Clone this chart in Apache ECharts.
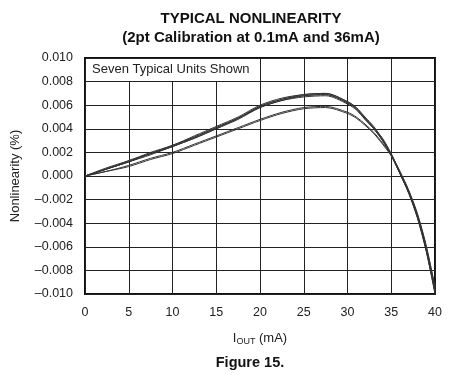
<!DOCTYPE html>
<html><head><meta charset="utf-8">
<script src="https://cdn.jsdelivr.net/npm/echarts@6/dist/echarts.min.js"></script>
<style>html,body{margin:0;padding:0;background:#fff}#c{width:458px;height:378px}</style>
</head><body><div id="c"></div>
<script>
const xs = [0, 2.5, 5, 7.5, 10, 12.5, 15, 17.5, 20, 22.5, 25, 27.5, 30, 31, 32, 33, 34, 35, 36, 37, 38, 39, 40];
const unitA = [0, 0.0006, 0.0012, 0.0019, 0.0025, 0.0033, 0.0041, 0.0049, 0.0059, 0.0065, 0.0068, 0.0069, 0.0062, 0.0057, 0.0049, 0.0041, 0.0031, 0.0018, 0.0002, -0.0014, -0.0035, -0.0063, -0.0098];
const unitB = [0, 0.0006, 0.0012, 0.0018, 0.0025, 0.0032, 0.0040, 0.0048, 0.0058, 0.0064, 0.0067, 0.0068, 0.0061, 0.0056, 0.0048, 0.0040, 0.0030, 0.0017, 0.0002, -0.0014, -0.0034, -0.0061, -0.0096];
const unitC = [0, 0.0007, 0.0013, 0.0020, 0.0026, 0.0034, 0.0042, 0.0050, 0.0060, 0.0066, 0.0069, 0.0070, 0.0063, 0.0058, 0.0050, 0.0042, 0.0031, 0.0018, 0.0002, -0.0015, -0.0036, -0.0064, -0.0100];
const unitD = [0, 0.0006, 0.0013, 0.0019, 0.0026, 0.0033, 0.0041, 0.0049, 0.0059, 0.0065, 0.0069, 0.0070, 0.0063, 0.0058, 0.0049, 0.0041, 0.0032, 0.0019, 0.0003, -0.0013, -0.0034, -0.0062, -0.0097];
const unitE = [0, 0.0006, 0.0012, 0.0019, 0.0025, 0.0032, 0.0040, 0.0049, 0.0058, 0.0064, 0.0068, 0.0069, 0.0062, 0.0057, 0.0048, 0.0040, 0.0030, 0.0018, 0.0002, -0.0014, -0.0035, -0.0063, -0.0099];
const unitF = [0, 0.0004, 0.0008, 0.0014, 0.0019, 0.0026, 0.0033, 0.0040, 0.0047, 0.0053, 0.0057, 0.0058, 0.0053, 0.0049, 0.0043, 0.0036, 0.0027, 0.0017, 0.0003, -0.0013, -0.0033, -0.0060, -0.0095];
const unitG = [0, 0.0004, 0.0009, 0.0015, 0.0020, 0.0027, 0.0034, 0.0041, 0.0048, 0.0054, 0.0058, 0.0059, 0.0054, 0.0050, 0.0044, 0.0037, 0.0028, 0.0018, 0.0004, -0.0012, -0.0032, -0.0059, -0.0094];
const units = [unitA, unitB, unitC, unitD, unitE, unitF, unitG];
const xTicks = [0, 5, 10, 15, 20, 25, 30, 35, 40];
const yTicks = [-0.010, -0.008, -0.006, -0.004, -0.002, 0.000, 0.002, 0.004, 0.006, 0.008, 0.010];

const chart = echarts.init(document.getElementById('c'));
const F = '"Liberation Sans", Arial, sans-serif';
chart.setOption({
  animation: false,
  backgroundColor: '#fff',
  title: [
    {text: 'TYPICAL NONLINEARITY', left: 246, top: 6, textAlign: 'center',
     textStyle: {fontFamily: F, fontSize: 15, fontWeight: 'bold', color: '#111'}},
    {text: '(2pt Calibration at 0.1mA and 36mA)', left: 246, top: 25, textAlign: 'center',
     textStyle: {fontFamily: F, fontSize: 15, fontWeight: 'bold', color: '#111'}},
    {text: 'Figure 15.', left: 245, top: 350, textAlign: 'center',
     textStyle: {fontFamily: F, fontSize: 14.5, fontWeight: 'bold', color: '#111'}}
  ],
  grid: {left: 85, right: 23, top: 58, bottom: 84, show: true, borderColor: '#111', borderWidth: 2, backgroundColor: 'transparent'},
  xAxis: {
    type: 'value', min: xTicks[0], max: xTicks[xTicks.length - 1], interval: 5,
    name: '{a|I}{s|OUT}{a| (mA)}', nameLocation: 'middle', nameGap: 36,
    nameTextStyle: {rich: {a: {fontFamily: F, fontSize: 13, color: '#222'}, s: {fontFamily: F, fontSize: 9, color: '#222', verticalAlign: 'bottom', padding: [7, 0, 0, 0]}}},
    axisLine: {show: false}, axisTick: {show: false},
    axisLabel: {fontFamily: F, fontSize: 12.5, color: '#222', margin: 12},
    splitLine: {show: true, lineStyle: {color: '#222', width: 1}}
  },
  yAxis: {
    type: 'value', min: yTicks[0], max: yTicks[yTicks.length - 1], interval: 0.002,
    name: 'Nonlinearity (%)', nameLocation: 'middle', nameGap: 63,
    nameTextStyle: {fontFamily: F, fontSize: 13, color: '#222'},
    axisLine: {show: false}, axisTick: {show: false},
    axisLabel: {fontFamily: F, fontSize: 12.5, color: '#222', margin: 12,
      formatter: v => (v < -1e-9 ? '\u2013' : '') + Math.abs(v).toFixed(3)},
    splitLine: {show: true, lineStyle: {color: '#222', width: 1}}
  },
  graphic: [
    {type: 'rect', z: 100, shape: {x: 86, y: 59, width: 172, height: 22}, style: {fill: '#fff'}},
    {type: 'text', z: 101, left: 92, top: 63, style: {text: 'Seven Typical Units Shown', fontFamily: F, fontSize: 13, fill: '#222'}}
  ],
  series: units.map(u => ({
    type: 'line', smooth: 0.3, showSymbol: false,
    data: xs.map((x, i) => [x, u[i]]),
    lineStyle: {color: '#333', width: 1}
  }))
});
</script>
</body></html>
